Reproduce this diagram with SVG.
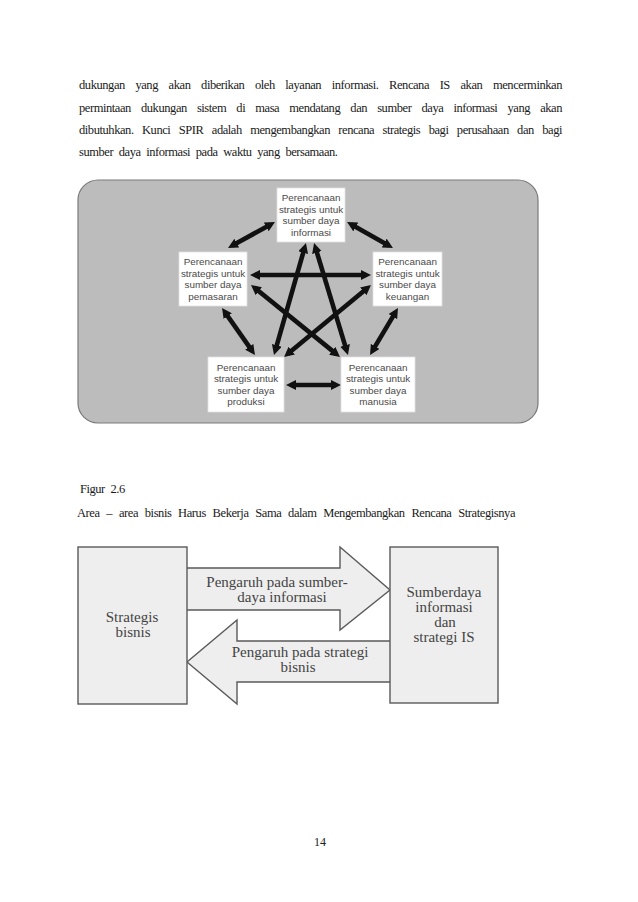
<svg xmlns="http://www.w3.org/2000/svg" width="638" height="902" viewBox="0 0 638 902">
<defs>
<style>
.body{font-family:"Liberation Serif","Times New Roman",serif;font-size:12.5px;letter-spacing:-0.45px;fill:#1a1a1a}
.bx{fill:#ffffff;stroke:#e0e0e0;stroke-width:0.8}
.bt{font-family:"Liberation Sans",Arial,sans-serif;font-size:9.9px;fill:#4a4a4a;text-anchor:middle}
.ar{stroke:#111;stroke-width:4.6;fill:none;marker-start:url(#ah);marker-end:url(#ah)}
.blk{fill:#eeeeee;stroke:#5a5a5a;stroke-width:1.4}
.bk{font-family:"Liberation Serif","Times New Roman",serif;font-size:15px;fill:#444;text-anchor:middle}
</style>
<marker id="ah" viewBox="0 0 10 10" refX="5" refY="5" markerWidth="10" markerHeight="10" markerUnits="userSpaceOnUse" orient="auto-start-reverse">
<path d="M0,0 L10,5 L0,10 z" fill="#111"/>
</marker>
</defs>
<rect width="638" height="902" fill="#ffffff"/>

<g id="paragraph" class="body">
<text x="79" y="89" style="word-spacing:7.9px" textLength="483" lengthAdjust="spacing">dukungan yang akan diberikan oleh layanan informasi. Rencana IS akan mencerminkan</text>
<text x="79" y="112" style="word-spacing:7.4px" textLength="483" lengthAdjust="spacing">permintaan dukungan sistem di masa mendatang dan sumber daya informasi yang akan</text>
<text x="79" y="134" style="word-spacing:5.7px" textLength="483" lengthAdjust="spacing">dibutuhkan. Kunci SPIR adalah mengembangkan rencana strategis bagi perusahaan dan bagi</text>
<text x="79" y="156" style="word-spacing:3px">sumber daya informasi  pada waktu yang bersamaan.</text>
</g>

<g id="figure1-background">
<rect x="78" y="180" width="460" height="243" rx="20" ry="20" fill="#bcbcbc" stroke="#7a7a7a" stroke-width="1.2"/>
</g>

<g id="connectors">
<line class="ar" x1="270.6" y1="224.4" x2="232.4" y2="245.6"/>
<line class="ar" x1="351.4" y1="224.5" x2="388.6" y2="245.5"/>
<line class="ar" x1="255" y1="275" x2="366" y2="275"/>
<line class="ar" x1="254.9" y1="288.1" x2="336.1" y2="353.9"/>
<line class="ar" x1="367.1" y1="288.2" x2="287.9" y2="353.8"/>
<line class="ar" x1="304.6" y1="247.8" x2="275.4" y2="350.2"/>
<line class="ar" x1="315.5" y1="247.8" x2="346.5" y2="350.2"/>
<line class="ar" x1="224.9" y1="312.1" x2="252.1" y2="350.9"/>
<line class="ar" x1="395.4" y1="312.3" x2="372.6" y2="350.7"/>
<line class="ar" x1="291" y1="385" x2="336" y2="385"/>
</g>

<g id="node-informasi">
<rect class="bx" x="277" y="188" width="68" height="54"/>
<text class="bt"><tspan x="311" y="201.3">Perencanaan</tspan><tspan x="311" y="212.8">strategis untuk</tspan><tspan x="311" y="224.3">sumber daya</tspan><tspan x="311" y="235.8">informasi</tspan></text>
</g>
<g id="node-pemasaran">
<rect class="bx" x="179" y="252" width="68" height="54"/>
<text class="bt"><tspan x="213" y="265.3">Perencanaan</tspan><tspan x="213" y="276.8">strategis untuk</tspan><tspan x="213" y="288.3">sumber daya</tspan><tspan x="213" y="299.8">pemasaran</tspan></text>
</g>
<g id="node-keuangan">
<rect class="bx" x="373" y="252" width="69" height="54"/>
<text class="bt"><tspan x="407.5" y="265.3">Perencanaan</tspan><tspan x="407.5" y="276.8">strategis untuk</tspan><tspan x="407.5" y="288.3">sumber daya</tspan><tspan x="407.5" y="299.8">keuangan</tspan></text>
</g>
<g id="node-produksi">
<rect class="bx" x="208" y="357" width="76" height="55"/>
<text class="bt"><tspan x="246" y="370.8">Perencanaan</tspan><tspan x="246" y="382.3">strategis untuk</tspan><tspan x="246" y="393.8">sumber daya</tspan><tspan x="246" y="405.3">produksi</tspan></text>
</g>
<g id="node-manusia">
<rect class="bx" x="341" y="357" width="74" height="55"/>
<text class="bt"><tspan x="378" y="370.8">Perencanaan</tspan><tspan x="378" y="382.3">strategis untuk</tspan><tspan x="378" y="393.8">sumber daya</tspan><tspan x="378" y="405.3">manusia</tspan></text>
</g>

<g id="caption" class="body">
<text x="80" y="493" style="word-spacing:3px">Figur  2.6</text>
<text x="77" y="517" textLength="438" lengthAdjust="spacing" style="word-spacing:4px">Area – area bisnis  Harus  Bekerja  Sama  dalam  Mengembangkan  Rencana  Strategisnya</text>
</g>

<g id="figure2-connectors">
<path class="blk" d="M187,568 L340,568 L340,547 L390,590 L340,630 L340,610 L187,610"/>
<path class="blk" d="M390,641 L237,641 L237,620 L187,662 L237,704 L237,682 L390,682"/>
<text class="bk" x="277" y="587">Pengaruh pada sumber-</text>
<text class="bk" x="282" y="602">daya informasi</text>
<text class="bk" x="300" y="657">Pengaruh pada strategi</text>
<text class="bk" x="298" y="672">bisnis</text>
</g>
<g id="node-strategis-bisnis">
<rect class="blk" x="78" y="547" width="109" height="157"/>
<text class="bk" x="132" y="622">Strategis</text>
<text class="bk" x="133" y="637">bisnis</text>
</g>
<g id="node-sumberdaya">
<rect class="blk" x="390" y="547" width="108" height="156"/>
<text class="bk" x="444" y="597">Sumberdaya</text>
<text class="bk" x="444" y="612">informasi</text>
<text class="bk" x="445" y="627">dan</text>
<text class="bk" x="444" y="642">strategi IS</text>
</g>

<g id="page-number">
<text x="320" y="846" text-anchor="middle" style="font-family:'Liberation Serif',serif;font-size:12px;fill:#222">14</text>
</g>
</svg>
